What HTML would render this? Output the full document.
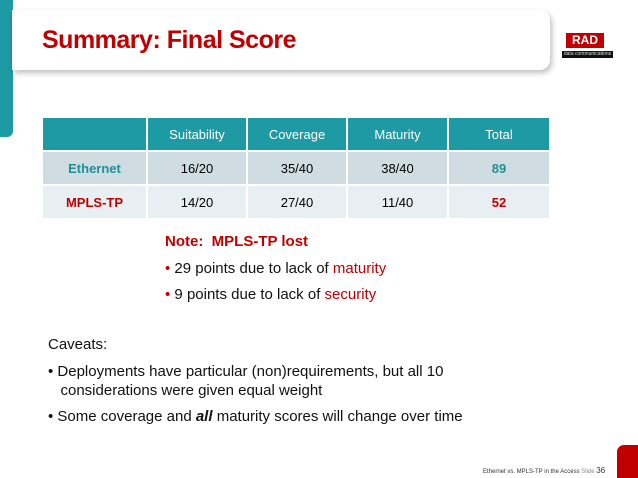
<!DOCTYPE html>
<html><head><meta charset="utf-8"><style>
body{margin:0;width:638px;height:478px;overflow:hidden;background:#fff;font-family:"Liberation Sans",sans-serif;position:relative}
.a{position:absolute}
table{border-collapse:collapse;font-size:13px;table-layout:fixed}
td{text-align:center;border:2px solid #fff;padding:0}
.t{font-size:15px;color:#111;white-space:nowrap}
.red{color:#c00000}.teal{color:#1f8f98}
</style></head><body>
<div class="a" style="left:0;top:0;width:13px;height:137px;background:#1d9aa3;border-bottom-right-radius:6px"></div>
<div class="a" style="left:12px;top:10px;width:538px;height:60px;background:#fff;border-radius:0 10px 10px 0;box-shadow:2px 3px 6px rgba(0,0,0,.25)"></div>
<div class="a" style="left:42px;top:26px;font-size:25px;font-weight:bold;color:#c00000;letter-spacing:-0.5px">Summary: Final Score</div>
<div class="a" style="left:566px;top:33px;width:38px;height:15px;background:#c00000;color:#fff;font-size:12px;font-weight:bold;text-align:center;line-height:15px">RAD</div>
<div class="a" style="left:562px;top:51px;width:51px;height:7px;background:#111;color:#ddd;font-size:5px;line-height:7px;text-align:center">data communications</div>
<table class="a" style="left:41px;top:116px;width:508px">
<colgroup><col style="width:105px"><col style="width:100px"><col style="width:100px"><col style="width:101px"><col style="width:102px"></colgroup>
<tr style="height:34px;background:#1d9aa3;color:#fff"><td></td><td>Suitability</td><td>Coverage</td><td>Maturity</td><td>Total</td></tr>
<tr style="height:34px;background:#cfdde2"><td class="teal"><b>Ethernet</b></td><td>16/20</td><td>35/40</td><td>38/40</td><td class="teal"><b>89</b></td></tr>
<tr style="height:34px;background:#e8eff2"><td class="red"><b>MPLS-TP</b></td><td>14/20</td><td>27/40</td><td>11/40</td><td class="red"><b>52</b></td></tr>
</table>
<div class="a t red" style="left:165px;top:233px;font-weight:bold">Note:&nbsp; MPLS-TP lost</div>
<div class="a t" style="left:165px;top:260px"><span class="red">•</span> 29 points due to lack of <span class="red">maturity</span></div>
<div class="a t" style="left:165px;top:286px"><span class="red">•</span> 9 points due to lack of <span class="red">security</span></div>
<div class="a t" style="left:48px;top:336px">Caveats:</div>
<div class="a t" style="left:48px;top:362px;line-height:19px">• Deployments have particular (non)requirements, but all 10<br>&nbsp;&nbsp; considerations were given equal weight</div>
<div class="a t" style="left:48px;top:408px">• Some coverage and <b><i>all</i></b> maturity scores will change over time</div>
<div class="a" style="left:483px;top:466px;font-size:6px;color:#333;white-space:nowrap">Ethernet vs. MPLS-TP in the Access <span style="color:#888">Slide</span> <span style="font-size:8px">36</span></div>
<div class="a" style="left:617px;top:445px;width:21px;height:33px;background:#c00000;border-top-left-radius:7px"></div>
</body></html>
